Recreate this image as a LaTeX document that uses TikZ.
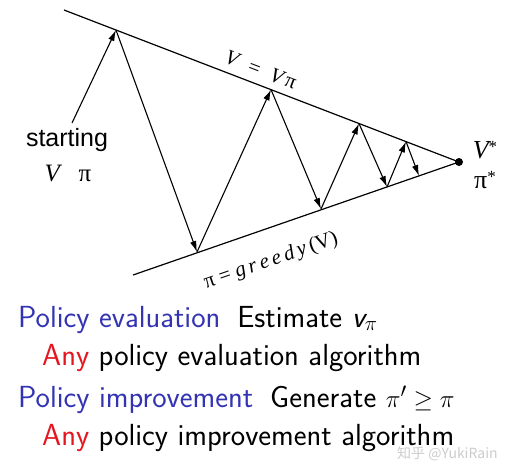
\documentclass[tikz,border=0pt]{standalone}
\usepackage{fontspec}
\usepackage{amsmath}
\usetikzlibrary{arrows.meta}
\newfontfamily\helv{Liberation Sans}
\newfontfamily\tms{Liberation Serif}
\newfontfamily\cjk{Noto Sans CJK SC}
\definecolor{structblue}{RGB}{51,51,179}
\definecolor{alertred}{RGB}{230,20,30}
\newcommand{\bigstar}{\raisebox{0.55ex}{\fontsize{17}{17}\selectfont *}}

\begin{document}
\begin{tikzpicture}[x=1pt,y=-1pt,
    arr/.style={-{Latex[length=11pt,width=6.5pt]}, line width=1.1pt},
    edge/.style={line width=1.2pt},
    diag/.style={font=\tms\fontsize{21}{21}\selectfont},
    txt/.style={anchor=base west, inner sep=0pt, font=\sffamily\fontsize{30.5}{30.5}\selectfont}]
    \useasboundingbox (0,0) rectangle (526,475);
    % the two lines meeting at the optimum
    \coordinate (topend) at (64,10);
    \coordinate (botend) at (133,275);
    \coordinate (opt) at (459,162);
    \draw[edge] (topend) -- (opt);
    \draw[edge] (botend) -- (opt);
    \fill (opt) circle (4);
    % points on the lines
    \coordinate (t1) at (116,30);
    \coordinate (b1) at (197,252);
    \coordinate (t2) at (271,89.5);
    \coordinate (b2) at (321,209);
    \coordinate (t3) at (359,123.5);
    \coordinate (b3) at (387,187);
    \coordinate (t4) at (406,141.5);
    \coordinate (b4) at (419,176);
    \coordinate (start) at (72,123);
    \draw[arr] (start) -- (t1);
    \draw[arr] (t1) -- (b1);
    \draw[arr] (b1) -- (t2);
    \draw[arr] (t2) -- (b2);
    \draw[arr] (b2) -- (t3);
    \draw[arr] (t3) -- (b3);
    \draw[arr] (b3) -- (t4);
    \draw[arr] (t4) -- (b4);
    % labels
    \node[diag, rotate=-21] (vlab) at (261,70) {\itshape V\ \ =\ \ V\,\upshape π};
    \node[diag, rotate=19] (glab) at (271,261) {π = \itshape g\,r\,e\,e\,d\,y\upshape\,(V)};
    \node[font=\helv\fontsize{25}{25}\selectfont] (startlab) at (67,140) {starting};
    \node[font=\tms\fontsize{25}{25}\selectfont] (startvp) at (68,173) {\itshape V\ \ \ \upshape π};
    \node[font=\tms\fontsize{26}{26}\selectfont] (vstar) at (485,150) {\itshape V\upshape\bigstar};
    \node[font=\tms\fontsize{26}{26}\selectfont] (pistar) at (485,180) {π\bigstar};
    % text below
    \node[txt] (line1) at (18,327) {\textcolor{structblue}{Policy evaluation}\hspace{17pt}Estimate {\itshape v}$_{\pi}$};
    \node[txt] (line2) at (42,365) {\textcolor{alertred}{Any} policy evaluation algorithm};
    \node[txt] (line3) at (18,407) {\textcolor{structblue}{Policy improvement}\hspace{17pt}Generate $\pi' \geq \pi$};
    \node[txt] (line4) at (42,445) {\textcolor{alertred}{Any} policy improvement algorithm};
    \node[anchor=base west, inner sep=0pt, text=black!20, font=\cjk\fontsize{14}{14}\selectfont] (mark) at (397,458) {知乎 @YukiRain};
\end{tikzpicture}
\end{document}
